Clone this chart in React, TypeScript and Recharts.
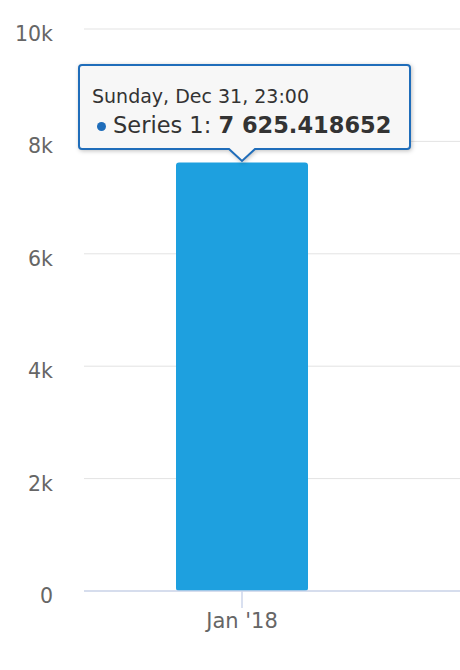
import { BarChart, Bar, XAxis, YAxis, CartesianGrid, Tooltip } from "recharts";

const categories = ["Jan '18"];
const headers = ["Sunday, Dec 31, 23:00"];
const series1 = [7625.418652];
const yTicks = [0, 2000, 4000, 6000, 8000, 10000];

const data = categories.map((c, i) => ({ month: c, header: headers[i], value: series1[i] }));

const BAR = "#1ea0df";
const FONT = "'DejaVu Sans', sans-serif";

const fmtK = (v: number) => (v === 0 ? "0" : `${v / 1000}k`);

function fmtValue(v: number) {
  const [int, dec] = String(v).split(".");
  const grouped = int.replace(/\B(?=(\d{3})+(?!\d))/g, " ");
  return dec ? `${grouped}.${dec}` : grouped;
}

function YTick(props: any) {
  const { x, y, payload } = props;
  return (
    <text x={x} y={y + 12} textAnchor="end" fill="#666666" fontSize={20.5} fontFamily={FONT}>
      {fmtK(payload.value)}
    </text>
  );
}

function XTick(props: any) {
  const { x, y, payload } = props;
  return (
    <text x={x} y={y + 20} textAnchor="middle" fill="#666666" fontSize={21} fontFamily={FONT}>
      {payload.value}
    </text>
  );
}

function TipBox(props: any) {
  const { payload } = props;
  if (!payload || !payload.length) return null;
  const row = payload[0].payload;
  return (
    <div style={{ position: "relative", width: 340, height: 105, fontFamily: FONT, color: "#333333" }}>
      <svg width={340} height={105} style={{ position: "absolute", left: 0, top: 0, filter: "drop-shadow(1px 1px 2px rgba(0,0,0,0.25))" }}>
        <path
          d="M 4 1 L 329 1 Q 332 1 332 4 L 332 82 Q 332 85 329 85 L 177 85 L 164 97 L 151 85 L 4 85 Q 1 85 1 82 L 1 4 Q 1 1 4 1 Z"
          fill="#f7f7f7"
          stroke="#1f6dba"
          strokeWidth={2}
        />
      </svg>
      <div style={{ position: "absolute", left: 14, top: 23, fontSize: 19, lineHeight: "19px", whiteSpace: "nowrap" }}>
        {row.header}
      </div>
      <div style={{ position: "absolute", left: 18.5, top: 57.5, width: 9, height: 9, borderRadius: "50%", background: "#1f6dba" }} />
      <div style={{ position: "absolute", left: 35, top: 50.3, fontSize: 22.5, lineHeight: "22.5px", whiteSpace: "nowrap" }}>
        Series 1: <b>{fmtValue(row.value)}</b>
      </div>
    </div>
  );
}

export default function App() {
  return (
    <div style={{ position: "absolute", left: 0, top: 0, background: "#fff" }}>
      <BarChart width={460} height={670} data={data} margin={{ top: 29, right: 0, bottom: 49, left: 0 }}>
        <CartesianGrid vertical={false} stroke="#e3e3e3" strokeWidth={1} />
        <XAxis
          dataKey="month"
          height={30}
          padding={{ left: 0, right: 60 }}
          axisLine={{ stroke: "#ccd6eb", strokeWidth: 1.5 }}
          tickLine={{ stroke: "#ccd6eb", strokeWidth: 1.5 }}
          tickSize={17}
          tickMargin={0}
          tick={<XTick />}
          interval={0}
        />
        <YAxis
          width={84}
          domain={[0, 10000]}
          ticks={yTicks}
          axisLine={false}
          tickLine={false}
          tickSize={0}
          tickMargin={31}
          tick={<YTick />}
        />
        <Tooltip
          active={true}
          defaultIndex={0}
          cursor={false}
          position={{ x: 78, y: 64 }}
          content={<TipBox />}
          isAnimationActive={false}
          wrapperStyle={{ outline: "none" }}
        />
        <Bar dataKey="value" name="Series 1" fill={BAR} barSize={132} radius={[3, 3, 3, 3]} isAnimationActive={false} />
      </BarChart>
    </div>
  );
}
